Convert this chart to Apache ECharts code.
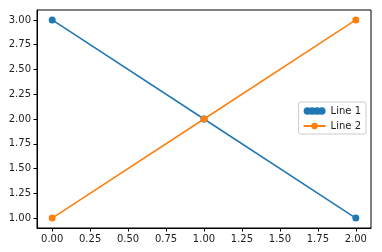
<!DOCTYPE html>
<html><head><meta charset="utf-8">
<script src="https://cdn.jsdelivr.net/npm/echarts@6/dist/echarts.min.js"></script>
<style>html,body{margin:0;padding:0;background:#fff}#c{width:382px;height:252px}</style>
</head><body><div id="c"></div>
<script>
const xValues = [0, 1, 2];
const line1 = [3, 2, 1];
const line2 = [1, 2, 3];
const seriesNames = ['Line 1', 'Line 2'];
const xTicks = [0, 0.25, 0.5, 0.75, 1, 1.25, 1.5, 1.75, 2];
const yTicks = [1, 1.25, 1.5, 1.75, 2, 2.25, 2.5, 2.75, 3];

const font = 'DejaVu Sans';
const chart = echarts.init(document.getElementById('c'), null, {renderer: 'canvas'});
const circles = 'path://M0,4a4,4 0 1,0 8,0a4,4 0 1,0 -8,0Z M5,4a4,4 0 1,0 8,0a4,4 0 1,0 -8,0Z M10,4a4,4 0 1,0 8,0a4,4 0 1,0 -8,0Z M15,4a4,4 0 1,0 8,0a4,4 0 1,0 -8,0Z';
chart.setOption({
  animation: false,
  grid: {left: 37, top: 10, width: 334, height: 218, show: true, borderColor: '#000', borderWidth: 1, containLabel: false},
  xAxis: {
    type: 'value', min: -0.1, max: 2.1,
    axisLine: {show: true, onZero: false, lineStyle: {color: '#000', width: 1}},
    axisTick: {show: true, length: 3.5, customValues: xTicks, lineStyle: {color: '#000'}},
    axisLabel: {customValues: xTicks, margin: 6, color: '#222', fontFamily: font, fontSize: 10,
      formatter: v => v.toFixed(2)},
    splitLine: {show: false}
  },
  yAxis: {
    type: 'value', min: 0.9, max: 3.1,
    axisLine: {show: true, onZero: false, lineStyle: {color: '#000', width: 1}},
    axisTick: {show: true, length: 3.5, customValues: yTicks, lineStyle: {color: '#000'}},
    axisLabel: {customValues: yTicks, margin: 6, color: '#222', fontFamily: font, fontSize: 10,
      formatter: v => v.toFixed(2)},
    splitLine: {show: false}
  },
  legend: {
    right: 16, top: 102, orient: 'vertical',
    backgroundColor: 'rgba(255,255,255,0.8)', borderColor: '#ccc', borderWidth: 1, borderRadius: 2,
    padding: [4, 5, 3, 4], itemGap: 5, itemWidth: 22, itemHeight: 8,
    textStyle: {fontFamily: font, fontSize: 10, color: '#222', padding: [0, 0, 0, 0]},
    data: [
      {name: seriesNames[0], icon: circles},
      {name: seriesNames[1]}
    ]
  },
  series: [
    {name: seriesNames[0], type: 'line', data: xValues.map((x, i) => [x, line1[i]]),
      color: '#1f77b4', symbol: 'circle', symbolSize: 7, lineStyle: {width: 1.5}, itemStyle: {color: '#1f77b4'}},
    {name: seriesNames[1], type: 'line', data: xValues.map((x, i) => [x, line2[i]]),
      color: '#ff7f0e', symbol: 'circle', symbolSize: 7, lineStyle: {width: 1.5}, itemStyle: {color: '#ff7f0e'}}
  ]
});
</script></body></html>
